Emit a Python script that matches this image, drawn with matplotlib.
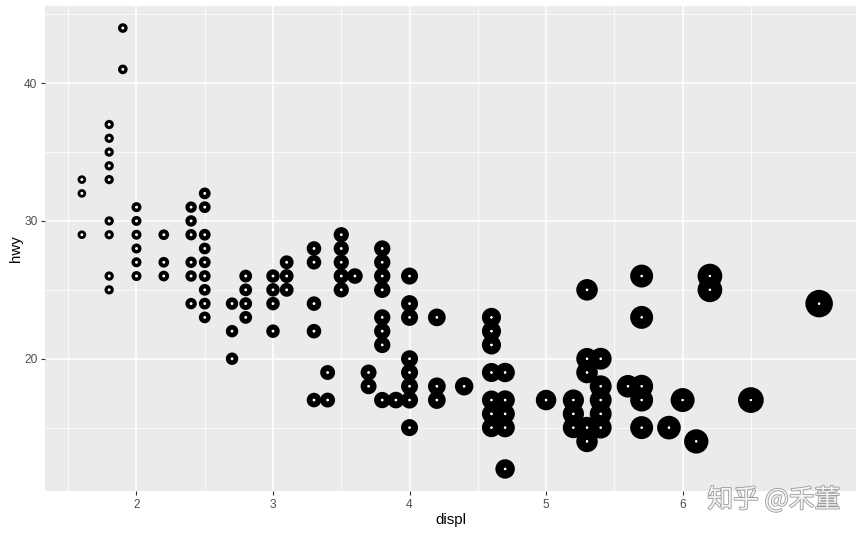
import matplotlib
matplotlib.use("Agg")
import matplotlib.pyplot as plt
import matplotlib.patheffects as pe
import numpy as np

# unique (displ, hwy) combinations
displ_groups = [1.6, 1.8, 1.9, 2.0, 2.2, 2.4, 2.5, 2.7, 2.8, 3.0, 3.1, 3.3, 3.4, 3.5,
                3.6, 3.7, 3.8, 3.9, 4.0, 4.2, 4.4, 4.6, 4.7, 5.0, 5.2, 5.3, 5.4, 5.6,
                5.7, 5.9, 6.0, 6.1, 6.2, 6.5, 7.0]
hwy_groups = [
    [33, 32, 29],
    [37, 36, 35, 34, 33, 30, 29, 26, 25],
    [44, 41],
    [31, 30, 29, 28, 27, 26],
    [29, 27, 26],
    [31, 30, 29, 27, 26, 24],
    [32, 31, 29, 28, 27, 26, 25, 24, 23],
    [24, 22, 20],
    [26, 25, 24, 23],
    [26, 25, 24, 22],
    [27, 26, 25],
    [28, 27, 24, 22, 17],
    [19, 17],
    [29, 28, 27, 26, 25],
    [26],
    [19, 18],
    [28, 27, 26, 25, 23, 22, 21, 17],
    [17],
    [26, 24, 23, 20, 19, 18, 17, 15],
    [23, 18, 17],
    [18],
    [23, 22, 21, 19, 17, 16, 15],
    [19, 17, 16, 15, 12],
    [17],
    [17, 16, 15],
    [25, 20, 19, 15, 14],
    [20, 18, 17, 16, 15],
    [18],
    [26, 23, 18, 17, 15],
    [15],
    [17],
    [14],
    [26, 25],
    [17],
    [24],
]

displ = []
hwy = []
for d, hs in zip(displ_groups, hwy_groups):
    for h in hs:
        displ.append(d)
        hwy.append(h)
displ = np.array(displ)
hwy = np.array(hwy)

plt.rcParams["font.family"] = ["Liberation Sans", "DejaVu Sans"]

W, H = 864, 535
DPI = 100
fig = plt.figure(figsize=(W / DPI, H / DPI), dpi=DPI)
fig.patch.set_facecolor("white")
ax = fig.add_axes([45 / W, 1 - 491 / H, (856 - 45) / W, (491 - 6) / H])
ax.set_facecolor("#EBEBEB")

px2pt = 72 / DPI
lw_px = 1.75 * displ
diam_px = 3.0 + lw_px
ax.scatter(displ, hwy, s=(diam_px * px2pt) ** 2, facecolors="white",
           edgecolors="black", linewidths=lw_px * px2pt, zorder=3)

ax.set_xlim(1.33, 7.27)
ax.set_ylim(10.4, 45.6)
ax.set_xticks([2, 3, 4, 5, 6])
ax.set_yticks([20, 30, 40])
ax.set_xticks([1.5, 2.5, 3.5, 4.5, 5.5, 6.5], minor=True)
ax.set_yticks([15, 25, 35, 45], minor=True)
ax.grid(which="major", color="white", linewidth=1.1)
ax.grid(which="minor", color="white", linewidth=0.55)
ax.set_axisbelow(True)
for s in ax.spines.values():
    s.set_visible(False)
ax.tick_params(which="major", length=3, width=0.8, color="#333333",
               labelcolor="#4D4D4D", labelsize=8.6, pad=2.5)
ax.tick_params(which="minor", length=0)
ax.set_xlabel("displ", fontsize=10.8, color="black", labelpad=2)
ax.set_ylabel("hwy", fontsize=10.8, color="black", labelpad=1)

fig.text(774 / W, 1 - 500 / H, "知乎 @禾董", fontsize=18.5,
         family=["Noto Sans CJK SC", "DejaVu Sans"], color="#F4F4F4",
         ha="center", va="center", zorder=10,
         path_effects=[pe.withStroke(linewidth=1.2, foreground="#9A9A9A")])

fig.savefig("out.png", dpi=DPI)
